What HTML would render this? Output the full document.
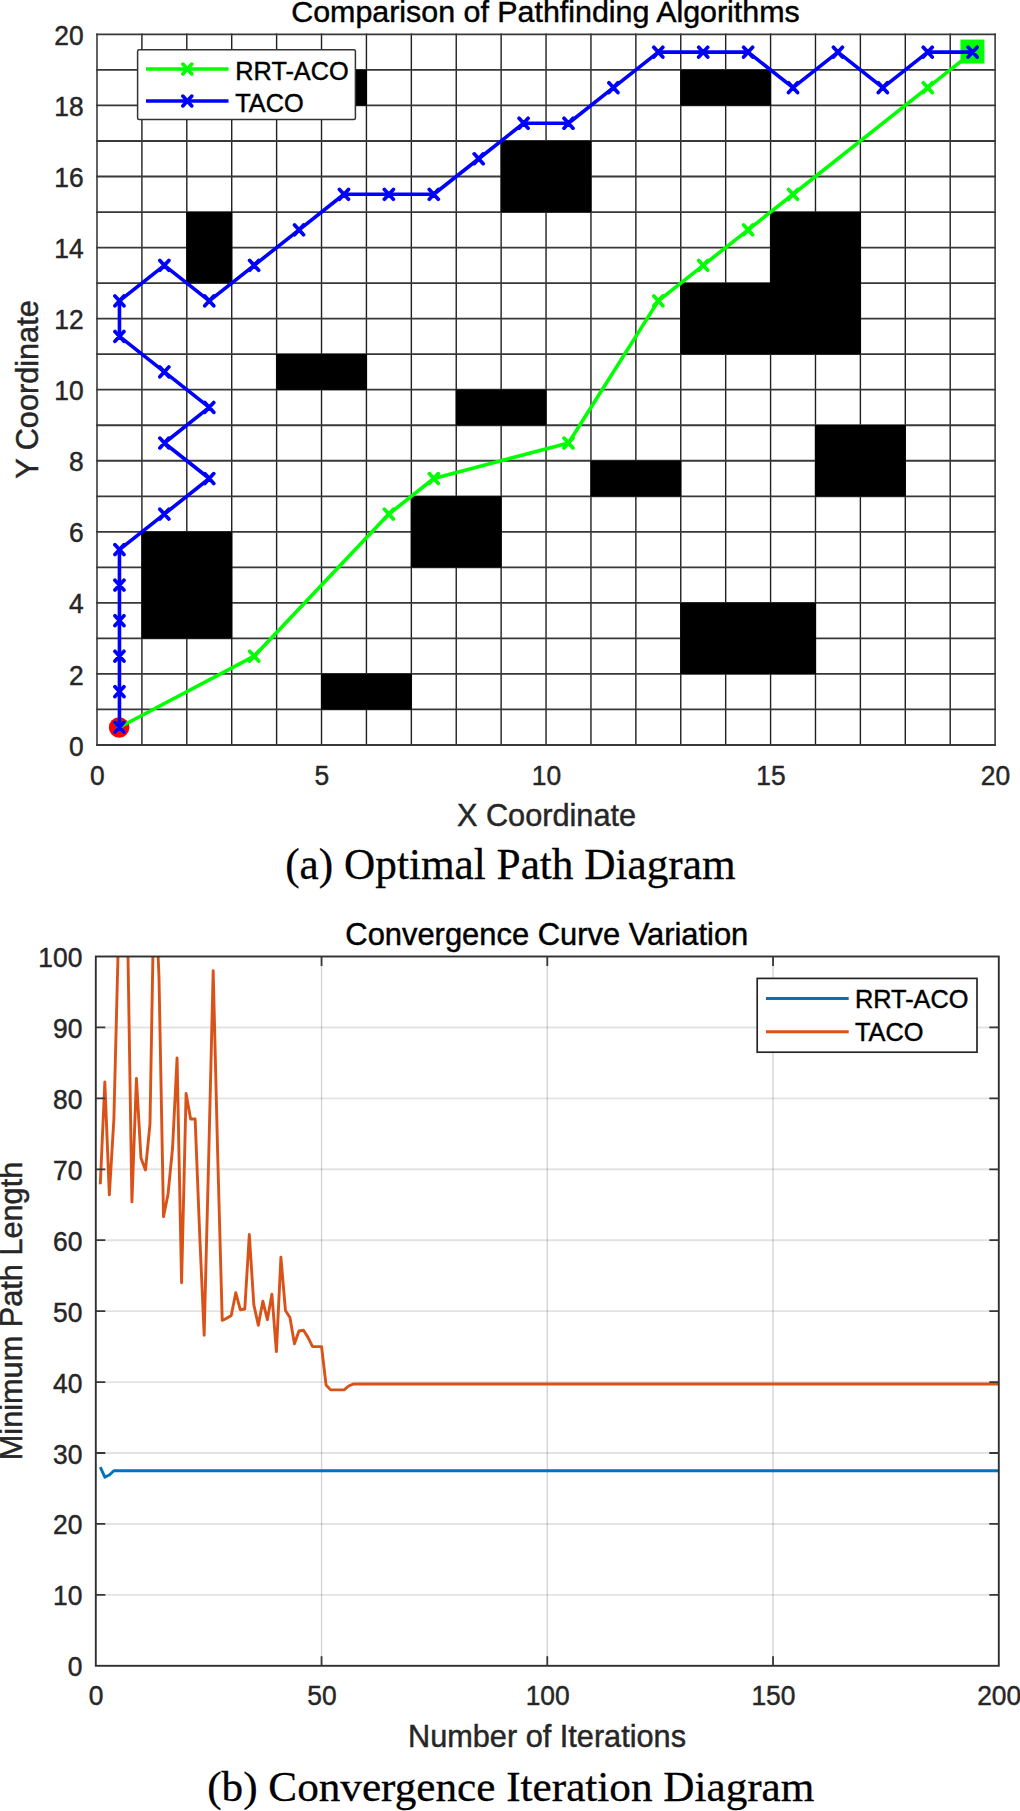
<!DOCTYPE html>
<html lang="en"><head><meta charset="utf-8"><title>Comparison of Pathfinding Algorithms</title>
<style>html,body{margin:0;padding:0;background:#fff}body{width:1020px;height:1811px;overflow:hidden}svg{display:block}text{font-family:"Liberation Sans",sans-serif;fill:#262626;stroke:#262626;stroke-width:.45px}.cap{font-family:"Liberation Serif",serif;fill:#000;stroke:#000;stroke-width:.3px;font-size:43.55px}.tk{font-size:27.8px}.lb{font-size:30.7px}.ti{font-size:30.4px;fill:#000;stroke:#000}.lg{font-size:25.3px;fill:#000;stroke:#000}</style></head><body>
<svg width="1020" height="1811" viewBox="0 0 1020 1811">
<rect width="1020" height="1811" fill="#fff"/>
<g id="chart1">
<text class="ti" x="545.5" y="22.1" text-anchor="middle">Comparison of Pathfinding Algorithms</text>
<path d="M97 33.6V745.8M141.91 33.6V745.8M186.81 33.6V745.8M231.72 33.6V745.8M276.62 33.6V745.8M321.52 33.6V745.8M366.43 33.6V745.8M411.34 33.6V745.8M456.24 33.6V745.8M501.14 33.6V745.8M546.05 33.6V745.8M590.96 33.6V745.8M635.86 33.6V745.8M680.76 33.6V745.8M725.67 33.6V745.8M770.58 33.6V745.8M815.48 33.6V745.8M860.38 33.6V745.8M905.29 33.6V745.8M950.2 33.6V745.8M995.1 33.6V745.8" stroke="#202020" stroke-width="1.4" fill="none"/>
<path d="M96.2 745H995.9M96.2 709.47H995.9M96.2 673.94H995.9M96.2 638.41H995.9M96.2 602.88H995.9M96.2 567.35H995.9M96.2 531.82H995.9M96.2 496.29H995.9M96.2 460.76H995.9M96.2 425.23H995.9M96.2 389.7H995.9M96.2 354.17H995.9M96.2 318.64H995.9M96.2 283.11H995.9M96.2 247.58H995.9M96.2 212.05H995.9M96.2 176.52H995.9M96.2 140.99H995.9M96.2 105.46H995.9M96.2 69.93H995.9M96.2 34.4H995.9" stroke="#383838" stroke-width="1.8" fill="none"/>
<rect x="321.02" y="69.73" width="45.91" height="35.93" fill="#000"/>
<rect x="680.26" y="69.73" width="90.81" height="35.93" fill="#000"/>
<rect x="500.64" y="140.79" width="90.81" height="71.46" fill="#000"/>
<rect x="186.31" y="211.85" width="45.91" height="71.46" fill="#000"/>
<rect x="770.08" y="211.85" width="90.81" height="71.46" fill="#000"/>
<rect x="680.26" y="282.91" width="180.62" height="71.46" fill="#000"/>
<rect x="276.12" y="353.97" width="90.81" height="35.93" fill="#000"/>
<rect x="455.74" y="389.5" width="90.81" height="35.93" fill="#000"/>
<rect x="814.98" y="425.03" width="90.81" height="71.46" fill="#000"/>
<rect x="590.46" y="460.56" width="90.81" height="35.93" fill="#000"/>
<rect x="410.84" y="496.09" width="90.81" height="71.46" fill="#000"/>
<rect x="141.41" y="531.62" width="90.81" height="106.99" fill="#000"/>
<rect x="680.26" y="602.68" width="135.72" height="71.46" fill="#000"/>
<rect x="321.02" y="673.74" width="90.81" height="35.93" fill="#000"/>
<circle cx="119.15" cy="727.53" r="10.3" fill="#f00"/>
<rect x="960.45" y="39.56" width="24" height="24" fill="#0f0"/>
<polyline points="119.45,727.24 254.17,656.17 388.88,514.06 433.79,478.52 568.5,443 658.31,300.88 703.22,265.34 748.12,229.81 793.03,194.28 927.74,87.69 972.65,52.16" fill="none" stroke="#0f0" stroke-width="3.6" stroke-linejoin="round"/>
<path d="M114.95 722.34L123.95 732.13M114.95 732.13L123.95 722.34M249.67 651.27L258.67 661.07M249.67 661.07L258.67 651.27M384.38 509.16L393.38 518.96M384.38 518.96L393.38 509.16M429.29 473.62L438.29 483.42M429.29 483.42L438.29 473.62M564 438.1L573 447.89M564 447.89L573 438.1M653.81 295.98L662.81 305.77M653.81 305.77L662.81 295.98M698.72 260.44L707.72 270.24M698.72 270.24L707.72 260.44M743.62 224.91L752.62 234.71M743.62 234.71L752.62 224.91M788.53 189.38L797.53 199.18M788.53 199.18L797.53 189.38M923.24 82.79L932.24 92.59M923.24 92.59L932.24 82.79M968.15 47.26L977.15 57.06M968.15 57.06L977.15 47.26" stroke="#0f0" stroke-width="3.7" stroke-linecap="round" fill="none"/>
<polyline points="119.45,727.24 119.45,691.71 119.45,656.17 119.45,620.64 119.45,585.12 119.45,549.59 164.36,514.06 209.26,478.52 164.36,443 209.26,407.46 164.36,371.94 119.45,336.4 119.45,300.88 164.36,265.34 209.26,300.88 254.17,265.34 299.07,229.81 343.98,194.28 388.88,194.28 433.79,194.28 478.69,158.75 523.6,123.23 568.5,123.23 613.41,87.69 658.31,52.16 703.22,52.16 748.12,52.16 793.03,87.69 837.93,52.16 882.84,87.69 927.74,52.16 972.65,52.16" fill="none" stroke="#00f" stroke-width="3.6" stroke-linejoin="round"/>
<path d="M114.95 722.34L123.95 732.13M114.95 732.13L123.95 722.34M114.95 686.81L123.95 696.61M114.95 696.61L123.95 686.81M114.95 651.27L123.95 661.07M114.95 661.07L123.95 651.27M114.95 615.75L123.95 625.54M114.95 625.54L123.95 615.75M114.95 580.22L123.95 590.01M114.95 590.01L123.95 580.22M114.95 544.69L123.95 554.49M114.95 554.49L123.95 544.69M159.86 509.16L168.86 518.96M159.86 518.96L168.86 509.16M204.76 473.62L213.76 483.42M204.76 483.42L213.76 473.62M159.86 438.1L168.86 447.89M159.86 447.89L168.86 438.1M204.76 402.56L213.76 412.36M204.76 412.36L213.76 402.56M159.86 367.04L168.86 376.83M159.86 376.83L168.86 367.04M114.95 331.5L123.95 341.3M114.95 341.3L123.95 331.5M114.95 295.98L123.95 305.77M114.95 305.77L123.95 295.98M159.86 260.44L168.86 270.24M159.86 270.24L168.86 260.44M204.76 295.98L213.76 305.77M204.76 305.77L213.76 295.98M249.67 260.44L258.67 270.24M249.67 270.24L258.67 260.44M294.57 224.91L303.57 234.71M294.57 234.71L303.57 224.91M339.48 189.38L348.48 199.18M339.48 199.18L348.48 189.38M384.38 189.38L393.38 199.18M384.38 199.18L393.38 189.38M429.29 189.38L438.29 199.18M429.29 199.18L438.29 189.38M474.19 153.85L483.19 163.66M474.19 163.66L483.19 153.85M519.1 118.33L528.1 128.13M519.1 128.13L528.1 118.33M564 118.33L573 128.13M564 128.13L573 118.33M608.91 82.79L617.91 92.59M608.91 92.59L617.91 82.79M653.81 47.26L662.81 57.06M653.81 57.06L662.81 47.26M698.72 47.26L707.72 57.06M698.72 57.06L707.72 47.26M743.62 47.26L752.62 57.06M743.62 57.06L752.62 47.26M788.53 82.79L797.53 92.59M788.53 92.59L797.53 82.79M833.43 47.26L842.43 57.06M833.43 57.06L842.43 47.26M878.34 82.79L887.34 92.59M878.34 92.59L887.34 82.79M923.24 47.26L932.24 57.06M923.24 57.06L932.24 47.26M968.15 47.26L977.15 57.06M968.15 57.06L977.15 47.26" stroke="#00f" stroke-width="3.7" stroke-linecap="round" fill="none"/>
<rect x="137.6" y="49.8" width="217.8" height="69.8" rx="1.5" fill="#fff" stroke="#333" stroke-width="1.5"/>
<path d="M146 69H228.5" stroke="#0f0" stroke-width="3.6"/>
<path d="M182.8 64.1L191.8 73.9M182.8 73.9L191.8 64.1" stroke="#0f0" stroke-width="3.7" stroke-linecap="round" fill="none"/>
<text class="lg" x="235.3" y="79.5">RRT-ACO</text>
<path d="M146 101H228.5" stroke="#00f" stroke-width="3.6"/>
<path d="M182.8 96.1L191.8 105.9M182.8 105.9L191.8 96.1" stroke="#00f" stroke-width="3.7" stroke-linecap="round" fill="none"/>
<text class="lg" x="235.3" y="111.5">TACO</text>
<text class="tk" transform="translate(83.6 755.6) scale(.95 1)" text-anchor="end">0</text>
<text class="tk" transform="translate(83.6 684.54) scale(.95 1)" text-anchor="end">2</text>
<text class="tk" transform="translate(83.6 613.48) scale(.95 1)" text-anchor="end">4</text>
<text class="tk" transform="translate(83.6 542.42) scale(.95 1)" text-anchor="end">6</text>
<text class="tk" transform="translate(83.6 471.36) scale(.95 1)" text-anchor="end">8</text>
<text class="tk" transform="translate(83.6 400.3) scale(.95 1)" text-anchor="end">10</text>
<text class="tk" transform="translate(83.6 329.24) scale(.95 1)" text-anchor="end">12</text>
<text class="tk" transform="translate(83.6 258.18) scale(.95 1)" text-anchor="end">14</text>
<text class="tk" transform="translate(83.6 187.12) scale(.95 1)" text-anchor="end">16</text>
<text class="tk" transform="translate(83.6 116.06) scale(.95 1)" text-anchor="end">18</text>
<text class="tk" transform="translate(83.6 45) scale(.95 1)" text-anchor="end">20</text>
<text class="tk" transform="translate(97.4 785.3) scale(.95 1)" text-anchor="middle">0</text>
<text class="tk" transform="translate(321.92 785.3) scale(.95 1)" text-anchor="middle">5</text>
<text class="tk" transform="translate(546.45 785.3) scale(.95 1)" text-anchor="middle">10</text>
<text class="tk" transform="translate(770.98 785.3) scale(.95 1)" text-anchor="middle">15</text>
<text class="tk" transform="translate(995.5 785.3) scale(.95 1)" text-anchor="middle">20</text>
<text class="lb" x="546.5" y="826.3" text-anchor="middle">X Coordinate</text>
<text class="lb" transform="translate(37.5 389.5) rotate(-90)" text-anchor="middle">Y Coordinate</text>
</g>
<text class="cap" style="font-size:43.25px" x="510.4" y="879" text-anchor="middle">(a) Optimal Path Diagram</text>
<g id="chart2">
<text class="ti" style="font-size:30.9px" x="546.8" y="944.6" text-anchor="middle">Convergence Curve Variation</text>
<clipPath id="c2"><rect x="95.8" y="956.5" width="903" height="709.3"/></clipPath>
<path d="M95.8 1594.87H998.8M95.8 1523.94H998.8M95.8 1453.01H998.8M95.8 1382.08H998.8M95.8 1311.15H998.8M95.8 1240.22H998.8M95.8 1169.29H998.8M95.8 1098.36H998.8M95.8 1027.43H998.8" stroke="#e3e3e3" stroke-width="1.9" fill="none"/>
<path d="M321.55 956.5V1665.8M547.3 956.5V1665.8M773.05 956.5V1665.8" stroke="rgba(38,38,38,0.2)" stroke-width="1.4" fill="none"/>
<polyline clip-path="url(#c2)" points="100.31,1467.2 104.83,1477.13 109.34,1475 113.86,1470.74 118.38,1470.74 122.89,1470.74 127.41,1470.74 131.92,1470.74 136.44,1470.74 140.95,1470.74 145.47,1470.74 149.98,1470.74 154.5,1470.74 159.01,1470.74 163.52,1470.74 168.04,1470.74 172.56,1470.74 177.07,1470.74 181.58,1470.74 186.1,1470.74 190.62,1470.74 195.13,1470.74 199.64,1470.74 204.16,1470.74 208.67,1470.74 213.19,1470.74 217.7,1470.74 222.22,1470.74 226.74,1470.74 231.25,1470.74 235.76,1470.74 240.28,1470.74 244.79,1470.74 249.31,1470.74 253.82,1470.74 258.34,1470.74 262.85,1470.74 267.37,1470.74 271.88,1470.74 276.4,1470.74 280.91,1470.74 285.43,1470.74 289.94,1470.74 294.46,1470.74 298.97,1470.74 303.49,1470.74 308,1470.74 312.52,1470.74 317.03,1470.74 321.55,1470.74 326.06,1470.74 330.58,1470.74 335.09,1470.74 339.61,1470.74 344.12,1470.74 348.64,1470.74 353.15,1470.74 357.67,1470.74 362.19,1470.74 366.7,1470.74 371.21,1470.74 375.73,1470.74 380.25,1470.74 384.76,1470.74 389.27,1470.74 393.79,1470.74 398.31,1470.74 402.82,1470.74 407.33,1470.74 411.85,1470.74 416.37,1470.74 420.88,1470.74 425.39,1470.74 429.91,1470.74 434.43,1470.74 438.94,1470.74 443.45,1470.74 447.97,1470.74 452.49,1470.74 457,1470.74 461.51,1470.74 466.03,1470.74 470.54,1470.74 475.06,1470.74 479.57,1470.74 484.09,1470.74 488.6,1470.74 493.12,1470.74 497.63,1470.74 502.15,1470.74 506.66,1470.74 511.18,1470.74 515.69,1470.74 520.21,1470.74 524.72,1470.74 529.24,1470.74 533.75,1470.74 538.27,1470.74 542.78,1470.74 547.3,1470.74 551.81,1470.74 556.33,1470.74 560.84,1470.74 565.36,1470.74 569.88,1470.74 574.39,1470.74 578.9,1470.74 583.42,1470.74 587.93,1470.74 592.45,1470.74 596.96,1470.74 601.48,1470.74 605.99,1470.74 610.51,1470.74 615.02,1470.74 619.54,1470.74 624.05,1470.74 628.57,1470.74 633.08,1470.74 637.6,1470.74 642.11,1470.74 646.63,1470.74 651.14,1470.74 655.66,1470.74 660.17,1470.74 664.69,1470.74 669.2,1470.74 673.72,1470.74 678.23,1470.74 682.75,1470.74 687.26,1470.74 691.78,1470.74 696.29,1470.74 700.81,1470.74 705.32,1470.74 709.84,1470.74 714.35,1470.74 718.87,1470.74 723.38,1470.74 727.9,1470.74 732.41,1470.74 736.93,1470.74 741.44,1470.74 745.96,1470.74 750.47,1470.74 754.99,1470.74 759.5,1470.74 764.02,1470.74 768.53,1470.74 773.05,1470.74 777.56,1470.74 782.08,1470.74 786.59,1470.74 791.11,1470.74 795.62,1470.74 800.14,1470.74 804.65,1470.74 809.17,1470.74 813.68,1470.74 818.2,1470.74 822.71,1470.74 827.23,1470.74 831.74,1470.74 836.26,1470.74 840.77,1470.74 845.29,1470.74 849.8,1470.74 854.32,1470.74 858.83,1470.74 863.35,1470.74 867.86,1470.74 872.38,1470.74 876.89,1470.74 881.41,1470.74 885.92,1470.74 890.44,1470.74 894.95,1470.74 899.47,1470.74 903.98,1470.74 908.5,1470.74 913.01,1470.74 917.53,1470.74 922.04,1470.74 926.56,1470.74 931.07,1470.74 935.59,1470.74 940.1,1470.74 944.62,1470.74 949.13,1470.74 953.65,1470.74 958.16,1470.74 962.68,1470.74 967.19,1470.74 971.71,1470.74 976.22,1470.74 980.74,1470.74 985.25,1470.74 989.77,1470.74 994.28,1470.74 998.8,1470.74" fill="none" stroke="#0072bd" stroke-width="2.9" stroke-linejoin="round"/>
<polyline clip-path="url(#c2)" points="100.31,1184.19 104.83,1082.05 109.34,1194.82 113.86,1119.64 118.38,940.19 122.89,885.57 127.41,918.91 131.92,1201.92 136.44,1078.5 140.95,1157.94 145.47,1170 149.98,1123.89 154.5,864.29 159.01,977.78 163.52,1216.81 168.04,1194.12 172.56,1148.01 177.07,1057.93 181.58,1282.78 186.1,1093.39 190.62,1118.93 195.13,1118.93 199.64,1233.13 204.16,1335.27 208.67,1158.65 213.19,970.69 217.7,1155.1 222.22,1320.37 226.74,1318.24 231.25,1315.41 235.76,1292.71 240.28,1309.73 244.79,1309.02 249.31,1234.55 253.82,1304.77 258.34,1325.34 262.85,1301.22 267.37,1319.66 271.88,1294.13 276.4,1351.58 280.91,1257.24 285.43,1310.44 289.94,1317.53 294.46,1343.78 298.97,1331.01 303.49,1330.3 308,1337.39 312.52,1346.62 317.03,1346.62 321.55,1346.62 326.06,1384.92 330.58,1389.88 335.09,1389.88 339.61,1389.88 344.12,1389.88 348.64,1385.98 353.15,1384.07 357.67,1384.07 362.19,1384.07 366.7,1384.07 371.21,1384.07 375.73,1384.07 380.25,1384.07 384.76,1384.07 389.27,1384.07 393.79,1384.07 398.31,1384.07 402.82,1384.07 407.33,1384.07 411.85,1384.07 416.37,1384.07 420.88,1384.07 425.39,1384.07 429.91,1384.07 434.43,1384.07 438.94,1384.07 443.45,1384.07 447.97,1384.07 452.49,1384.07 457,1384.07 461.51,1384.07 466.03,1384.07 470.54,1384.07 475.06,1384.07 479.57,1384.07 484.09,1384.07 488.6,1384.07 493.12,1384.07 497.63,1384.07 502.15,1384.07 506.66,1384.07 511.18,1384.07 515.69,1384.07 520.21,1384.07 524.72,1384.07 529.24,1384.07 533.75,1384.07 538.27,1384.07 542.78,1384.07 547.3,1384.07 551.81,1384.07 556.33,1384.07 560.84,1384.07 565.36,1384.07 569.88,1384.07 574.39,1384.07 578.9,1384.07 583.42,1384.07 587.93,1384.07 592.45,1384.07 596.96,1384.07 601.48,1384.07 605.99,1384.07 610.51,1384.07 615.02,1384.07 619.54,1384.07 624.05,1384.07 628.57,1384.07 633.08,1384.07 637.6,1384.07 642.11,1384.07 646.63,1384.07 651.14,1384.07 655.66,1384.07 660.17,1384.07 664.69,1384.07 669.2,1384.07 673.72,1384.07 678.23,1384.07 682.75,1384.07 687.26,1384.07 691.78,1384.07 696.29,1384.07 700.81,1384.07 705.32,1384.07 709.84,1384.07 714.35,1384.07 718.87,1384.07 723.38,1384.07 727.9,1384.07 732.41,1384.07 736.93,1384.07 741.44,1384.07 745.96,1384.07 750.47,1384.07 754.99,1384.07 759.5,1384.07 764.02,1384.07 768.53,1384.07 773.05,1384.07 777.56,1384.07 782.08,1384.07 786.59,1384.07 791.11,1384.07 795.62,1384.07 800.14,1384.07 804.65,1384.07 809.17,1384.07 813.68,1384.07 818.2,1384.07 822.71,1384.07 827.23,1384.07 831.74,1384.07 836.26,1384.07 840.77,1384.07 845.29,1384.07 849.8,1384.07 854.32,1384.07 858.83,1384.07 863.35,1384.07 867.86,1384.07 872.38,1384.07 876.89,1384.07 881.41,1384.07 885.92,1384.07 890.44,1384.07 894.95,1384.07 899.47,1384.07 903.98,1384.07 908.5,1384.07 913.01,1384.07 917.53,1384.07 922.04,1384.07 926.56,1384.07 931.07,1384.07 935.59,1384.07 940.1,1384.07 944.62,1384.07 949.13,1384.07 953.65,1384.07 958.16,1384.07 962.68,1384.07 967.19,1384.07 971.71,1384.07 976.22,1384.07 980.74,1384.07 985.25,1384.07 989.77,1384.07 994.28,1384.07 998.8,1384.07" fill="none" stroke="#d95319" stroke-width="2.9" stroke-linejoin="round"/>
<rect x="95.8" y="956.5" width="903" height="709.3" fill="none" stroke="#303030" stroke-width="1.9"/>
<path d="M321.55 956.5v9.5M321.55 1665.8v-9.5M547.3 956.5v9.5M547.3 1665.8v-9.5M773.05 956.5v9.5M773.05 1665.8v-9.5M95.8 1594.87h9.5M998.8 1594.87h-9.5M95.8 1523.94h9.5M998.8 1523.94h-9.5M95.8 1453.01h9.5M998.8 1453.01h-9.5M95.8 1382.08h9.5M998.8 1382.08h-9.5M95.8 1311.15h9.5M998.8 1311.15h-9.5M95.8 1240.22h9.5M998.8 1240.22h-9.5M95.8 1169.29h9.5M998.8 1169.29h-9.5M95.8 1098.36h9.5M998.8 1098.36h-9.5M95.8 1027.43h9.5M998.8 1027.43h-9.5" stroke="#383838" stroke-width="1.8" fill="none"/>
<text class="tk" transform="translate(82.4 1676.3) scale(.95 1)" text-anchor="end">0</text>
<text class="tk" transform="translate(82.4 1605.37) scale(.95 1)" text-anchor="end">10</text>
<text class="tk" transform="translate(82.4 1534.44) scale(.95 1)" text-anchor="end">20</text>
<text class="tk" transform="translate(82.4 1463.51) scale(.95 1)" text-anchor="end">30</text>
<text class="tk" transform="translate(82.4 1392.58) scale(.95 1)" text-anchor="end">40</text>
<text class="tk" transform="translate(82.4 1321.65) scale(.95 1)" text-anchor="end">50</text>
<text class="tk" transform="translate(82.4 1250.72) scale(.95 1)" text-anchor="end">60</text>
<text class="tk" transform="translate(82.4 1179.79) scale(.95 1)" text-anchor="end">70</text>
<text class="tk" transform="translate(82.4 1108.86) scale(.95 1)" text-anchor="end">80</text>
<text class="tk" transform="translate(82.4 1037.93) scale(.95 1)" text-anchor="end">90</text>
<text class="tk" transform="translate(82.4 967) scale(.95 1)" text-anchor="end">100</text>
<text class="tk" transform="translate(96.2 1705.3) scale(.95 1)" text-anchor="middle">0</text>
<text class="tk" transform="translate(321.95 1705.3) scale(.95 1)" text-anchor="middle">50</text>
<text class="tk" transform="translate(547.7 1705.3) scale(.95 1)" text-anchor="middle">100</text>
<text class="tk" transform="translate(773.45 1705.3) scale(.95 1)" text-anchor="middle">150</text>
<text class="tk" transform="translate(999.2 1705.3) scale(.95 1)" text-anchor="middle">200</text>
<text class="lb" x="547" y="1746.5" text-anchor="middle">Number of Iterations</text>
<text class="lb" transform="translate(21.5 1311) rotate(-90)" text-anchor="middle">Minimum Path Length</text>
<rect x="757.2" y="978.4" width="219.8" height="73.8" fill="#fff" stroke="#262626" stroke-width="1.7"/>
<path d="M766 998.5H848.7" stroke="#0072bd" stroke-width="2.9"/>
<text class="lg" x="855" y="1008">RRT-ACO</text>
<path d="M766 1031.8H848.7" stroke="#d95319" stroke-width="2.9"/>
<text class="lg" x="855" y="1041.3">TACO</text>
</g>
<text class="cap" style="font-size:43.2px" x="510.8" y="1801.2" text-anchor="middle">(b) Convergence Iteration Diagram</text>
</svg></body></html>
